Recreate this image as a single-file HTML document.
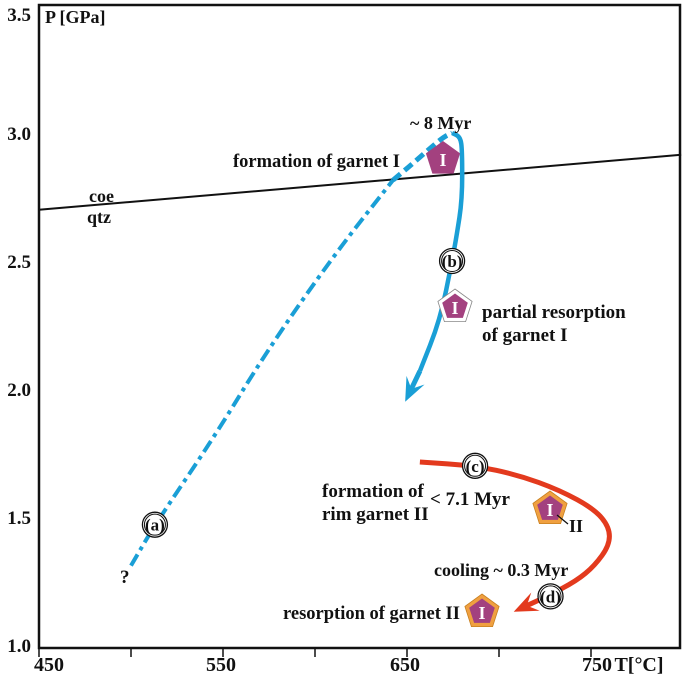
<!DOCTYPE html>
<html><head><meta charset="utf-8"><style>
html,body{margin:0;padding:0;background:#fff;}
svg text{font-family:"Liberation Serif",serif;font-weight:bold;fill:#111;}
</style></head><body>
<svg id="chart" width="685" height="683" viewBox="0 0 685 683" xmlns="http://www.w3.org/2000/svg">
<g id="axes"></g>
<g id="marks"></g>
<g id="ann"></g>
</svg>
<script>
const xTicks=[450,500,550,600,650,700,750];
const xTickLabels=["450","","550","","650","","750"];
const yTicks=[1.0,1.5,2.0,2.5,3.0,3.5];
const yTickLabels=["1.0","1.5","2.0","2.5","3.0","3.5"];
const coeQtzT=[450,799];
const coeQtzP=[2.7,2.915];
const progradeDashDotT=[500,513,545,574,610,642.4];
const progradeDashDotP=[1.31,1.47,1.81,2.15,2.52,2.816];
const peakDashT=[642.4,653,662.5,670,674.5];
const peakDashP=[2.816,2.88,2.94,2.985,3.0];
const retroT=[674.5,679,680,680,677,674.5,668,657,649];
const retroP=[3.0,2.985,2.93,2.74,2.6,2.5,2.27,2.07,1.95];
const redT=[657,687,710,733,752,760,760,752,742,726,708];
const redP=[1.715,1.70,1.665,1.605,1.53,1.46,1.39,1.31,1.25,1.19,1.13];
const NS="http://www.w3.org/2000/svg";
const X0=39,X1=680,Y0=645,YT=5;
function sx(t){return X0+(t-450)*1.84;}
function sy(p){return Y0-(p-1)*256;}
function mk(tag,attrs,parent){const e=document.createElementNS(NS,tag);for(const k in attrs)e.setAttribute(k,attrs[k]);document.getElementById(parent).appendChild(e);return e;}
function txt(s,x,y,size,name,anchor,parent){const t=mk('text',{x:x,y:y,'font-size':size,'text-anchor':anchor||'start'},parent||'ann');t.textContent=s;


return t;}
const frame=mk('rect',{x:X0,y:YT,width:X1-X0,height:Y0-YT+3,fill:'none',stroke:'#111','stroke-width':2.5},'axes');


xTicks.forEach((t,i)=>{const l=mk('line',{x1:sx(t),x2:sx(t),y1:Y0+3,y2:Y0+12,stroke:'#111','stroke-width':1.5},'axes');


if(xTickLabels[i])txt(xTickLabels[i],sx(t)+(i==0?10:(i==6?6:-2)),Y0+26,20,'x-tick-label','middle','axes');});
txt('T[°C]',639,Y0+26,20,'x-axis-title','middle','axes');
yTicks.forEach((p,i)=>{txt(yTickLabels[i],31,(i==5?21:sy(p)+7),19,'y-tick-label','end','axes');});
txt('P [GPa]',45,23,18,'y-axis-title','start','axes');
function pathD(T,P){let d='';for(let i=0;i<T.length;i++){const x=sx(T[i]),y=sy(P[i]);if(i==0)d+='M'+x+' '+y;else{const px=sx(T[i-1]),py=sy(P[i-1]);d+=' Q'+px+' '+py+' '+((px+x)/2)+' '+((py+y)/2);}}d+=' L'+sx(T[T.length-1])+' '+sy(P[P.length-1]);return d;}
function line(T,P,attrs,name){const p=mk('path',Object.assign({d:pathD(T,P),fill:'none'},attrs),'marks');

return p;}
line(coeQtzT,coeQtzP,{stroke:'#111','stroke-width':2},'coe-qtz-reaction-line');
line(progradeDashDotT,progradeDashDotP,{stroke:'#1a9fd6','stroke-width':4,'stroke-dasharray':'13 5 4 5'},'prograde-path');
line(peakDashT,peakDashP,{stroke:'#1a9fd6','stroke-width':5,'stroke-dasharray':'10 5'},'peak-path');
line(retroT.slice(0,-1),retroP.slice(0,-1),{stroke:'#1a9fd6','stroke-width':4.5},'retrograde-path');
line(redT.slice(0,-1),redP.slice(0,-1),{stroke:'#e33a1e','stroke-width':5},'red-path');
function arrow(T,P,col,name){const n=T.length;const x2=sx(T[n-1]),y2=sy(P[n-1]),x1=sx(T[n-2]),y1=sy(P[n-2]);const a=Math.atan2(y2-y1,x2-x1);const L=24,W=10;
const bx=x2-L*Math.cos(a),by=y2-L*Math.sin(a);const pts=[[x2,y2],[bx+W*Math.sin(a),by-W*Math.cos(a)],[x2-L*0.6*Math.cos(a),y2-L*0.6*Math.sin(a)],[bx-W*Math.sin(a),by+W*Math.cos(a)]];
mk('line',{x1:x1,y1:y1,x2:x2-L*0.5*Math.cos(a),y2:y2-L*0.5*Math.sin(a),stroke:col,'stroke-width':5},'marks');
const p=mk('polygon',{points:pts.map(q=>q.join(',')).join(' '),fill:col},'marks');

}
arrow(retroT,retroP,'#1a9fd6','blue-arrowhead');
arrow(redT,redP,'#e33a1e','red-arrowhead');
function circ(label,T,P,name){const x=sx(T),y=sy(P);mk('circle',{cx:x,cy:y,r:12.5,fill:'#fff',stroke:'#111','stroke-width':1.3},'ann');mk('circle',{cx:x,cy:y,r:10.5,fill:'none',stroke:'#111','stroke-width':1},'ann');txt(label,x,y+6,17,name,'middle');}
circ('(a)',513,1.47,'stage-a-label');circ('(b)',674.5,2.5,'stage-b-label');circ('(c)',687,1.70,'stage-c-label');circ('(d)',728,1.19,'stage-d-label');
function pent(cx,cy,r,fill,stroke){const pts=[];for(let i=0;i<5;i++){const a=-Math.PI/2+i*2*Math.PI/5;pts.push((cx+r*Math.cos(a)).toFixed(1)+','+(cy+r*Math.sin(a)).toFixed(1));}return mk('polygon',{points:pts.join(' '),fill:fill,stroke:stroke||'none','stroke-width':0.8},'ann');}
function garnet(cx,cy,type,name){if(type=='outline'){pent(cx,cy,18,'#fff','#888');}if(type=='rim'){pent(cx,cy,18,'#f0a040','#c88020');}
const p=pent(cx,cy,type=='full'?18:13.5,'#a3417f');
const t=mk('text',{x:cx,y:cy+7,'font-size':18,'text-anchor':'middle',style:'fill:#fff'},'ann');t.textContent='I';

}
garnet(443,159,'full','garnet-i');garnet(455,307,'outline','garnet-i-partial');garnet(550,509,'rim','garnet-ii-rim');garnet(482,612,'rim','garnet-ii-resorbed');
mk('line',{x1:568,y1:524,x2:557,y2:515,stroke:'#111','stroke-width':1.3},'ann');
txt('~ 8 Myr',410,129,18,'peak-time-label');
txt('formation of garnet I',400,167,18.5,'garnet-i-formation-label','end');
txt('coe',89,202,18,'coe-label');txt('qtz',87,223,18,'qtz-label');
txt('partial resorption',482,318,19,'partial-resorption-label');txt('of garnet I',482,341,19,'partial-resorption-label-2');
txt('formation of',322,497,19,'rim-formation-label');txt('rim garnet II',322,520,19,'rim-formation-label-2');
txt('< 7.1 Myr',430,505,19,'rim-time-label');txt('II',569,532,18,'garnet-ii-pointer-label');
txt('cooling ~ 0.3 Myr',434,576,18,'cooling-label');
txt('resorption of garnet II',283,619,18.5,'resorption-label');
txt('?',120,583,19,'unknown-start-label');
</script>
</body></html>
